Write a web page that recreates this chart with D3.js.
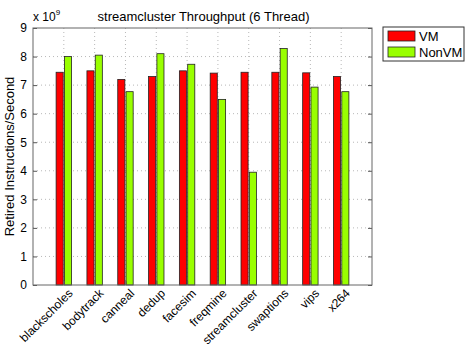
<!DOCTYPE html>
<html lang="en">
<head>
<meta charset="UTF-8">
<title>streamcluster throughput</title>
<style>
  body { margin: 0; background: #fff; }
  svg { font-family: "Liberation Sans", Arial, sans-serif; }
  .grid line { stroke: #b8b8b8; stroke-dasharray: 1,3; }
  .tick text { font-size: 12px; fill: #000; }
</style>
</head>
<body>
<div class="content"></div>
<script src="https://cdn.jsdelivr.net/npm/d3@7"></script>
<script>
  var benchmarks = ["blackscholes", "bodytrack", "canneal", "dedup", "facesim",
                    "freqmine", "streamcluster", "swaptions", "vips", "x264"];
  var vmValues    = [7.45, 7.5, 7.2, 7.3, 7.5, 7.42, 7.45, 7.45, 7.43, 7.3];
  var nonVmValues = [8.0, 8.05, 6.77, 8.1, 7.73, 6.5, 3.95, 8.28, 6.93, 6.77];
  var seriesNames = ["VM", "NonVM"];
  var seriesColors = ["#ff0000", "#99ff00"];
  var yTicks = [0, 1, 2, 3, 4, 5, 6, 7, 8, 9];

  var width = 474, height = 352;
  // note: "top" is taken by window.top, so use plot* names
  var plotL = 33, plotR = 372, plotT = 28, plotB = 285;

  var svg = d3.select(".content").append("svg")
    .attr("width", width)
    .attr("height", height);

  // matlab style: groups sit at 1..n, axis runs 0..n+1
  var x = d3.scaleLinear().domain([0, benchmarks.length + 1]).range([plotL, plotR]);
  var y = d3.scaleLinear().domain([0, 9]).range([plotB, plotT]);

  // grid
  var grid = svg.append("g").attr("class", "grid");
  grid.selectAll(".h").data(yTicks.slice(1, -1)).enter().append("line")
    .attr("x1", plotL).attr("x2", plotR)
    .attr("y1", function (d) { return y(d); })
    .attr("y2", function (d) { return y(d); });
  grid.selectAll(".v").data(benchmarks).enter().append("line")
    .attr("x1", function (d, i) { return x(i + 1); })
    .attr("x2", function (d, i) { return x(i + 1); })
    .attr("y1", plotT).attr("y2", plotB);

  // bars
  var barW = 0.23, off = 0.135;
  var series = [vmValues, nonVmValues];
  series.forEach(function (vals, s) {
    svg.append("g").selectAll("rect").data(vals).enter().append("rect")
      .attr("x", function (d, i) { return x(i + 1 + (s === 0 ? -off : off) - barW / 2); })
      .attr("width", x(barW) - x(0))
      .attr("y", function (d) { return y(d); })
      .attr("height", function (d) { return y(0) - y(d); })
      .attr("fill", seriesColors[s])
      .attr("stroke", "#222")
      .attr("stroke-width", 0.8);
  });

  // axes
  var yAxis = d3.axisLeft(y).tickValues(yTicks).tickSize(-4).tickPadding(6);
  var gy = svg.append("g").attr("transform", "translate(" + plotL + ",0)").call(yAxis);
  gy.select(".domain").remove();
  gy.selectAll(".tick line").attr("stroke", "#555");
  gy.selectAll(".tick text").attr("font-size", 13);

  var gyr = svg.append("g").attr("transform", "translate(" + plotR + ",0)")
    .call(d3.axisRight(y).tickValues(yTicks).tickSize(-4).tickFormat(""));
  gyr.select(".domain").remove();
  gyr.selectAll(".tick line").attr("stroke", "#555");

  var xAxis = d3.axisBottom(x)
    .tickValues(d3.range(1, benchmarks.length + 1))
    .tickFormat(function (d) { return benchmarks[d - 1]; })
    .tickSize(-4);
  var gx = svg.append("g").attr("transform", "translate(0," + plotB + ")").call(xAxis);
  gx.select(".domain").remove();
  gx.selectAll(".tick line").attr("stroke", "#555");
  gx.selectAll(".tick text")
    .attr("font-size", 12.8)
    .attr("text-anchor", "end")
    .attr("dy", null)
    .attr("transform", "translate(7,7) rotate(-45)");

  // frame
  svg.append("rect")
    .attr("x", plotL).attr("y", plotT)
    .attr("width", plotR - plotL).attr("height", plotB - plotT)
    .attr("fill", "none").attr("stroke", "#666").attr("stroke-width", 1);

  // title and labels
  svg.append("text").attr("x", (plotL + plotR) / 2 + 1).attr("y", 21)
    .attr("text-anchor", "middle").attr("font-size", 13)
    .text("streamcluster Throughput (6 Thread)");

  var mult = svg.append("text").attr("x", 33).attr("y", 21).attr("font-size", 12);
  mult.append("tspan").text("x 10");
  mult.append("tspan").attr("font-size", 8).attr("dy", -6).text("9");

  svg.append("text")
    .attr("transform", "translate(14," + ((plotT + plotB) / 2) + ") rotate(-90)")
    .attr("text-anchor", "middle").attr("font-size", 13)
    .text("Retired Instructions/Second");

  // legend
  var lg = svg.append("g").attr("transform", "translate(383,27)");
  lg.append("rect").attr("width", 81).attr("height", 34)
    .attr("fill", "#fff").attr("stroke", "#333");
  seriesNames.forEach(function (name, i) {
    lg.append("rect").attr("x", 5).attr("y", 4 + i * 16)
      .attr("width", 27).attr("height", 10)
      .attr("fill", seriesColors[i]).attr("stroke", "#222").attr("stroke-width", 0.8);
    lg.append("text").attr("x", 36).attr("y", 14 + i * 16)
      .attr("font-size", 13).text(name);
  });
</script>
</body>
</html>
